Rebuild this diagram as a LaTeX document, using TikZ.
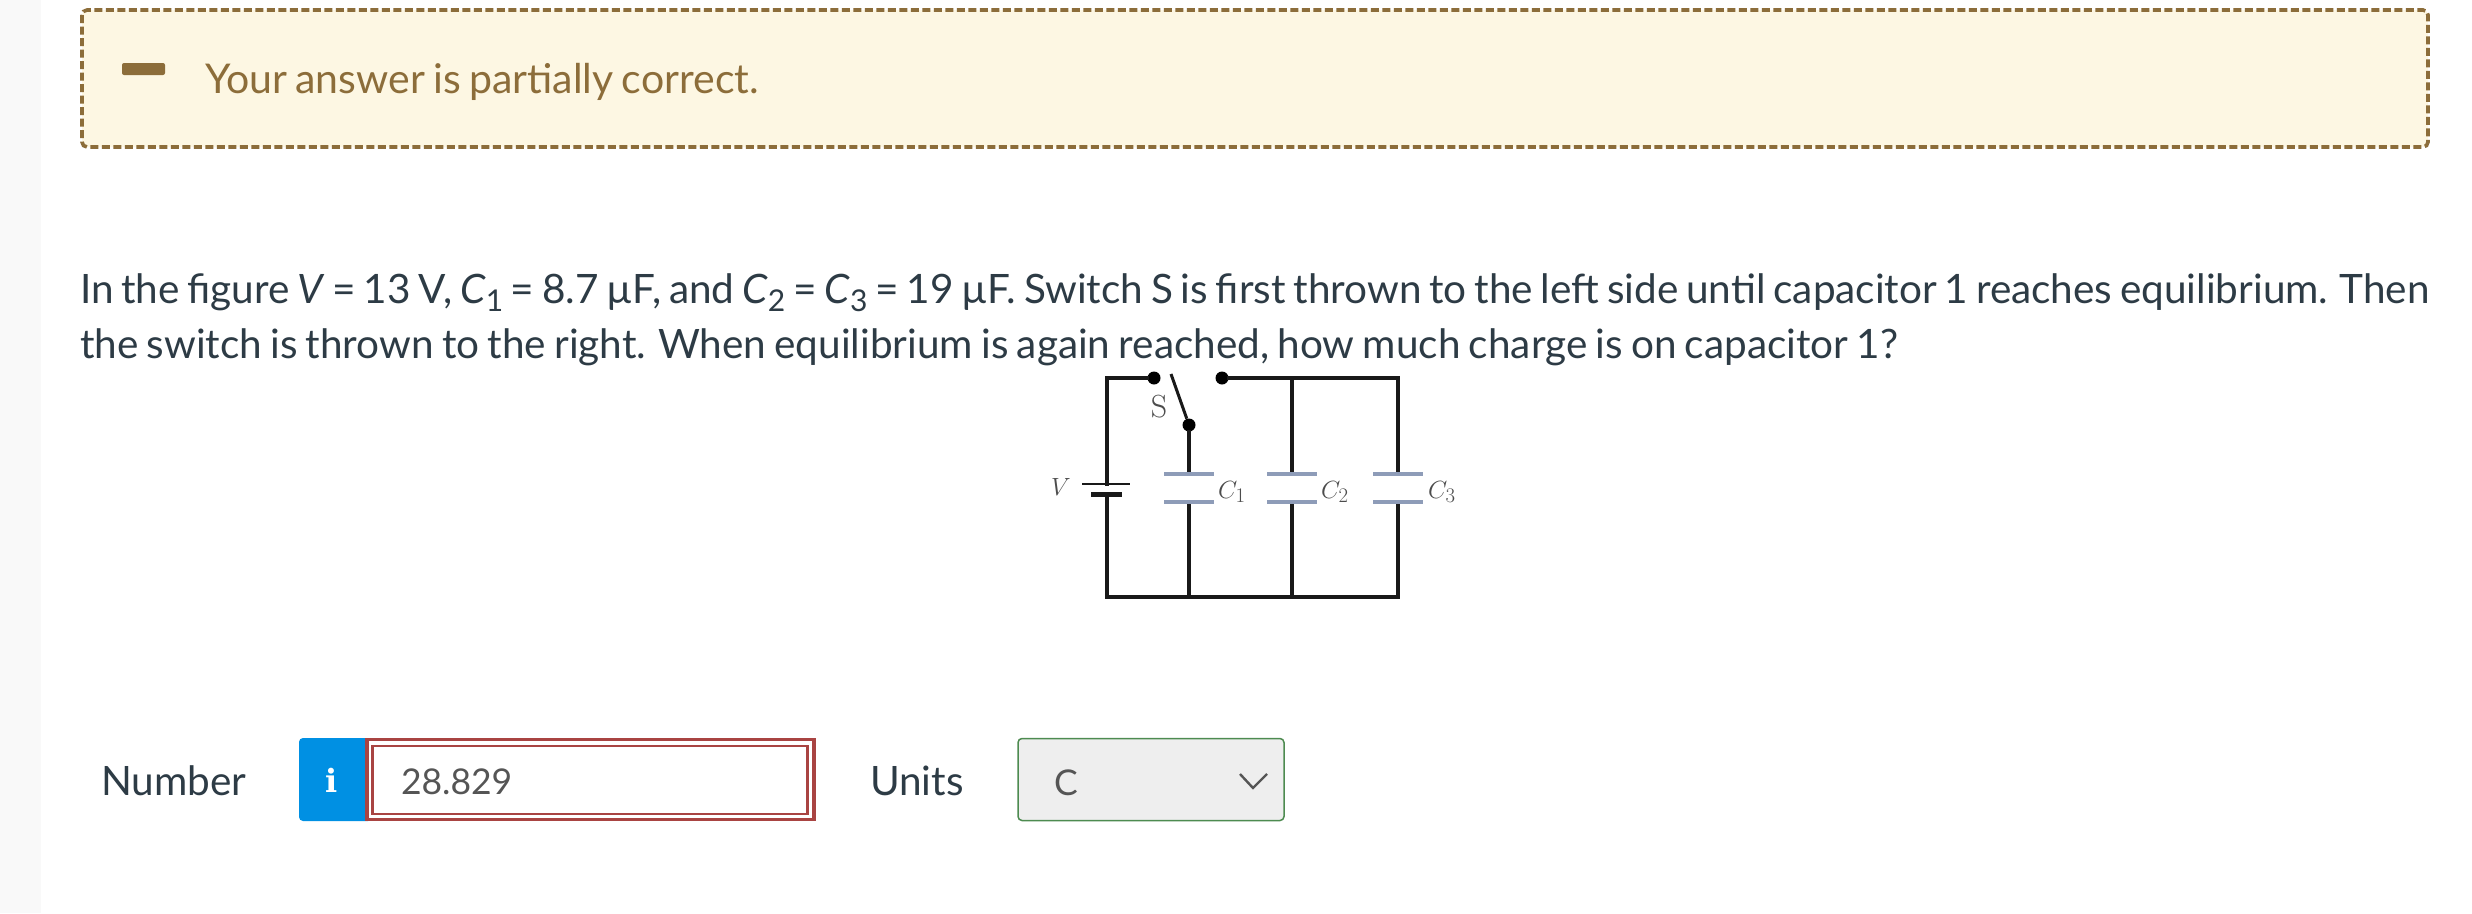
\documentclass[tikz,border=0pt]{standalone}
\usepackage{fontspec}
\setmainfont[WordSpace=0.79]{Lato}
\newfontfamily\lineonefont[WordSpace=0.75]{Lato}
\newfontfamily\slabfont{DejaVu Serif}
\definecolor{inktext}{HTML}{2D3B45}
\definecolor{warnfill}{HTML}{FDF7E3}
\definecolor{warnline}{HTML}{8C6D3A}
\definecolor{infoblue}{HTML}{0090E3}
\definecolor{badred}{HTML}{A94442}
\definecolor{okgreen}{HTML}{4D8B50}
\definecolor{selectgrey}{HTML}{EEEEEE}
\definecolor{valuegrey}{HTML}{555555}
\definecolor{stripgrey}{HTML}{F9F9F9}
\definecolor{platec}{HTML}{8E9CB8}
\newcommand{\subnum}[1]{\raisebox{-0.22em}{\fontsize{30}{30}\selectfont #1}}
\tikzset{
  x=1pt,y=-1pt,
  txt/.style={anchor=base west,inner sep=0pt,outer sep=0pt,text=inktext,font=\fontsize{40.5}{46}\selectfont},
  wire/.style={line width=3.8pt,black!90,line cap=rect},
  plate/.style={line width=4.5pt,platec},
  dotn/.style={circle,fill=black,inner sep=0pt,minimum size=13pt},
  circlbl/.style={inner sep=0pt,text=black!70,font=\fontsize{32}{32}\selectfont},
}
\begin{document}
\begin{tikzpicture}
\useasboundingbox (0,0) rectangle (2472,913);
\fill[white] (0,0) rectangle (2472,913);
\fill[stripgrey] (0,0) rectangle (41,913);
% banner
\draw[warnline,fill=warnfill,line width=3.6pt,dash pattern=on 8pt off 3.5pt,rounded corners=5pt] (82,10) rectangle (2428,147);
\fill[warnline,rounded corners=2pt] (122,63) rectangle (165,75);
\node[txt,text=warnline,font=\fontsize{41}{46}\selectfont] (banner) at (205,93) {Your answer is partially correct.};
% question
\node[txt,font=\lineonefont\fontsize{40.5}{46}\selectfont] (line1) at (80,303) {In the figure \textit{V} = 13 V, \textit{C}\subnum{1} = 8.7 µF, and \textit{C}\subnum{2} = \textit{C}\subnum{3} = 19 µF. Switch S is first thrown to the left side until capacitor 1 reaches equilibrium. Then};
\node[txt] (line2) at (80,358) {the switch is thrown to the right. When equilibrium is again reached, how much charge is on capacitor 1?};
% circuit
\coordinate (tl) at (1107,378);
\coordinate (bl) at (1107,597);
\coordinate (tr) at (1398,378);
\coordinate (br) at (1398,597);
\coordinate (t2) at (1292,378);
\coordinate (b2) at (1292,597);
\coordinate (b1) at (1189,597);
\coordinate (batT) at (1107,484);
\coordinate (batB) at (1107,494);
\coordinate (swtip) at (1171,374);
\node[dotn] (dL) at (1154,378) {};
\node[dotn] (dR) at (1222,378) {};
\node[dotn] (dS) at (1189,425) {};
\coordinate (c1t) at (1189,474); \coordinate (c1b) at (1189,502);
\coordinate (c2t) at (1292,474); \coordinate (c2b) at (1292,502);
\coordinate (c3t) at (1398,474); \coordinate (c3b) at (1398,502);
\draw[wire] (batT) -- (tl) -- (dL);
\draw[wire] (batB) -- (bl) -- (br) -- (c3b);
\draw[wire] (dR) -- (tr) -- (c3t);
\draw[wire] (t2) -- (c2t);
\draw[wire] (c2b) -- (b2);
\draw[wire] (dS) -- (c1t);
\draw[wire] (c1b) -- (b1);
\draw[line width=3pt,black!90] (swtip) -- (dS);
\draw[line width=2.6pt,black!90] ([xshift=-25pt]batT) -- ([xshift=23pt]batT);
\draw[line width=5pt,black!90] ([xshift=-16pt]batB) -- ([xshift=15pt]batB);
\foreach \c in {c1t,c1b,c2t,c2b,c3t,c3b}{\draw[plate] ([xshift=-25pt]\c) -- ([xshift=25pt]\c);}
\node[circlbl] (lblS) at (1159,407) {\fontfamily{lmr}\selectfont S};
\node[circlbl] (lblV) at (1061,487) {$V$};
\node[circlbl,anchor=base west] (lblC1) at (1218,498) {$C_1$};
\node[circlbl,anchor=base west] (lblC2) at (1321,498) {$C_2$};
\node[circlbl,anchor=base west] (lblC3) at (1428,498) {$C_3$};
% answer row
\node[txt] (number) at (101,795) {Number};
\fill[infoblue,rounded corners=4pt] (299,738) rectangle (372,821);
\fill[infoblue] (350,738) rectangle (366,821);
\node[inner sep=0pt,text=white,font=\slabfont\bfseries\fontsize{32}{32}\selectfont] (info) at (332,780) {i};
\fill[white] (366,738) rectangle (815,821);
\draw[badred,line width=3.8pt] (367,739.5) rectangle (814,819.5);
\draw[badred,line width=2.8pt] (372.5,746) rectangle (807.5,814);
\node[txt,text=valuegrey,font=\fontsize{35.5}{40}\selectfont] (value) at (401,794) {28.829};
\node[txt] (units) at (870,795) {Units};
\draw[okgreen,fill=selectgrey,line width=1.5pt,rounded corners=4pt] (1018,738.5) rectangle (1284,820.5);
\node[txt,text=valuegrey,font=\fontsize{35.5}{40}\selectfont] (cval) at (1054,795) {C};
\draw[valuegrey,line width=2.4pt] (1240,774) -- (1253,788) -- (1267,774);
\end{tikzpicture}
\end{document}
